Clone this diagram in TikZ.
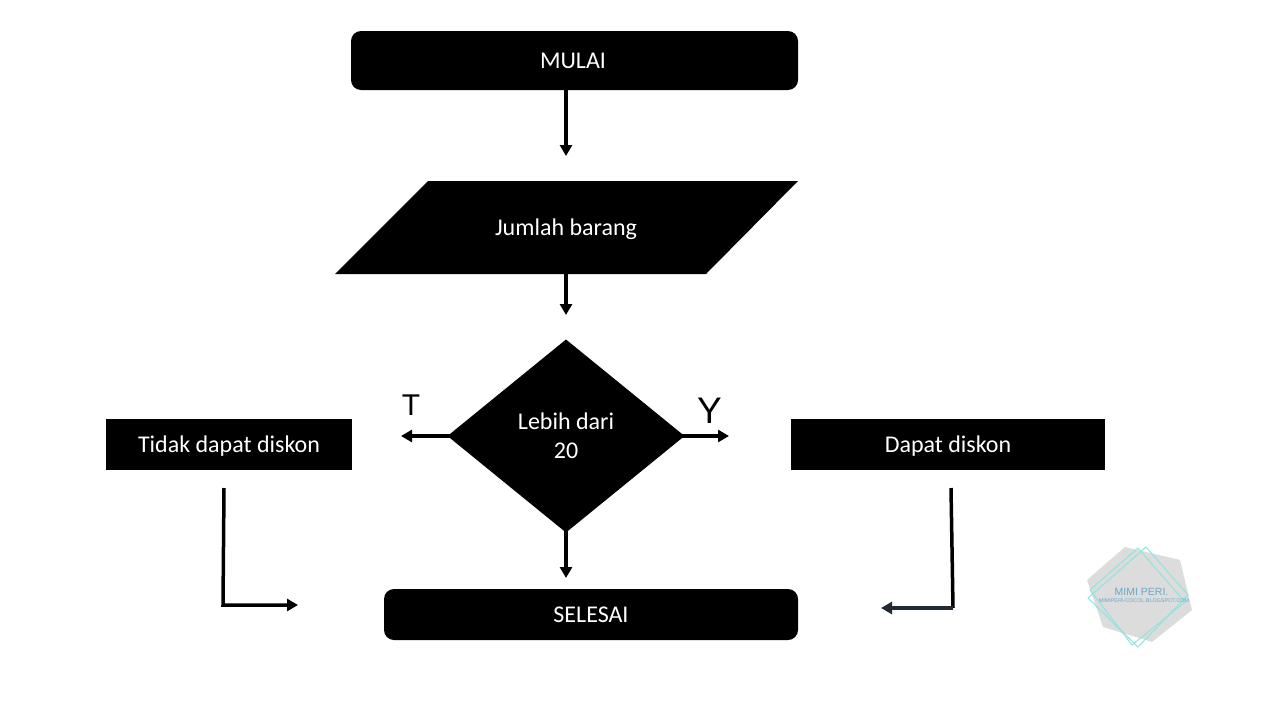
\documentclass[tikz,border=0pt]{standalone}
\usepackage{fontspec}
\setmainfont{Carlito}
\newfontfamily\arialfont{Liberation Sans}
\usetikzlibrary{arrows.meta,shapes.geometric}
\definecolor{navyline}{HTML}{222A35}
\definecolor{markgrey}{HTML}{DCDCDC}
\definecolor{markcyan}{HTML}{8FE3E0}
\definecolor{markblue}{HTML}{6AA8C8}
\tikzset{
  txt/.style={text=white,font=\fontsize{24}{29}\selectfont,align=center,inner sep=0pt},
  oneline/.style={txt,text height=20pt,text depth=4pt},
  terminal/.style={oneline,fill=black,rounded corners=10pt},
  process/.style={oneline,fill=black},
  decision/.style={txt,fill=black,diamond,aspect=1.23,outer sep=0pt},
  flow/.style={line width=3.5pt,-{Triangle[length=11pt,width=12pt]}},
  flowout/.style={flow,shorten <=-3pt},
  branch/.style={inner sep=0pt,font=\arialfont},
}
\begin{document}
\begin{tikzpicture}[x=1pt,y=-1pt]
      \useasboundingbox (0,0) rectangle (1280,720);
      % Symbols
      \node[terminal,minimum width=447pt,minimum height=59pt] (mulai) at (574.5,60.5) {\kern-3pt MULAI};
      \fill (428,181) -- (798,181) -- (706,274) -- (335,274) -- cycle;
      \node[oneline] (jumlah) at (566,227.5) {Jumlah barang};
      \coordinate (jumlahbottom) at (566,274);
      \node[decision,minimum width=237pt,minimum height=193pt] (lebih) at (566,436) {Lebih dari\\20};
      \node[process,minimum width=246pt,minimum height=51pt] (tidak) at (229,444.5) {Tidak dapat diskon};
      \node[process,minimum width=314pt,minimum height=51pt] (dapat) at (948,444.5) {Dapat diskon};
      \node[terminal,minimum width=414pt,minimum height=51pt] (selesai) at (591,614.5) {SELESAI};
      % Free ends of the arrows
      \coordinate (a1) at (566,156);
      \coordinate (a2) at (566,315);
      \coordinate (a3) at (401,436);
      \coordinate (a4) at (729,436);
      \coordinate (a5) at (566,578);
      \coordinate (l1) at (224,488);
      \coordinate (l2) at (223,605);
      \coordinate (l3) at (298,605);
      \coordinate (r1) at (951,488);
      \coordinate (r2) at (953,608);
      \coordinate (r3) at (881,608);
      % Arrows
      \draw[flow] (mulai.south -| a1) -- (a1);
      \draw[flow] (jumlahbottom) -- (a2);
      \draw[flowout] (lebih.west) -- (a3);
      \draw[flowout] (lebih.east) -- (a4);
      \draw[flowout] (lebih.south) -- (a5);
      \draw[flow] (l1) -- (l2) -- (l3);
      \draw[line width=3.5pt] (r1) -- (r2);
      \draw[flow,navyline] (r2) -- (r3);
      % Branch labels
      \node[branch,font=\arialfont\fontsize{30}{36}\selectfont] (t) at (411,405) {T};
      \node[branch,font=\arialfont\fontsize{37}{44}\selectfont] (y) at (709.5,411) {Y};
      % Watermark
      \fill[markgrey] (1125,547) -- (1180,560) -- (1192,610) -- (1152,642) -- (1103,627) -- (1087,580) -- cycle;
      \draw[markcyan,line width=1pt] (1146,547) -- (1188,595) -- (1138,647) -- (1088,598) -- cycle;
      \draw[markcyan,line width=1pt] (1138,548) -- (1185,602) -- (1132,645) -- (1090,590) -- cycle;
      \node[branch,text=markblue,font=\arialfont\fontsize{10.5}{12}\selectfont] (mimi) at (1141.5,592) {MIMI PERI.};
      \node[branch,text=markblue,font=\arialfont\fontsize{5.4}{6}\selectfont] (blog) at (1144,601) {MIMIPERI-COCOL.BLOGSPOT.COM};
\end{tikzpicture}
\end{document}
